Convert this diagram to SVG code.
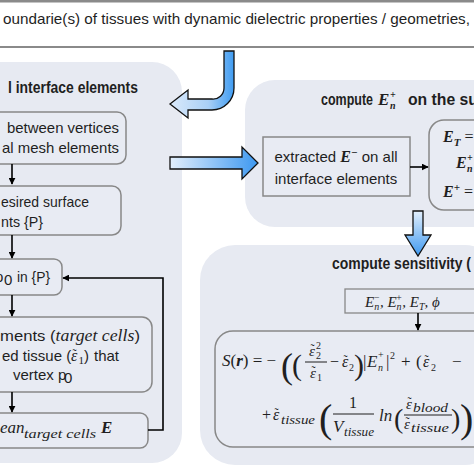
<svg xmlns="http://www.w3.org/2000/svg" width="474" height="474" viewBox="0 0 474 474">
<defs>
<style>
.panel{fill:#e7eaf2}
.box{fill:#e8ebf3;stroke:#888;stroke-width:1.5}
.t{font-family:"Liberation Sans",Arial,sans-serif;font-size:15px;fill:#1f1f1f}
.hb{font-weight:bold;font-size:17px}
.m{font-family:"Liberation Serif","Times New Roman",serif;font-style:italic;fill:#1f1f1f}
.up{font-style:normal}
.bi{font-weight:bold;font-style:italic}
.tl{font-family:"Liberation Serif","Times New Roman",serif;font-size:12px;fill:#1f1f1f}
.conn{stroke:#000;stroke-width:1.6;fill:none}
.blue{stroke:#111;stroke-width:1.3}
.bar{stroke:#1f1f1f;stroke-width:1}
</style>
<marker id="ah" viewBox="0 0 10 10" refX="9" refY="5" markerWidth="7" markerHeight="7" orient="auto" markerUnits="userSpaceOnUse">
<path d="M0,0 L10,5 L0,10 Z" fill="#000"/>
</marker>
<linearGradient id="gCurve" x1="0" y1="0" x2="1" y2="0">
<stop offset="0" stop-color="#dbeafb"/>
<stop offset="0.6" stop-color="#a9cff6"/>
<stop offset="1" stop-color="#3f9cf2"/>
</linearGradient>
<linearGradient id="gRight" x1="0" y1="0" x2="1" y2="0">
<stop offset="0" stop-color="#e3effc"/>
<stop offset="1" stop-color="#3d98f0"/>
</linearGradient>
<linearGradient id="gDown" x1="0" y1="0" x2="0" y2="1">
<stop offset="0" stop-color="#e3effc"/>
<stop offset="1" stop-color="#3d98f0"/>
</linearGradient>
</defs>

<rect x="0" y="0" width="474" height="474" fill="#fff"/>
<rect x="0" y="0" width="474" height="2.5" fill="#8a8a8a"/>
<g id="title">
<text class="t" x="3" y="24" font-size="16.5" textLength="467" lengthAdjust="spacingAndGlyphs">oundarie(s) of tissues with dynamic dielectric properties / geometries,</text>
</g>
<rect x="0" y="46" width="474" height="2" fill="#8a8a8a"/>

<g id="panel-left">
<rect class="panel" x="-40" y="62" width="222" height="401" rx="30"/>
<text class="t hb" x="138" y="93" text-anchor="end" textLength="130" lengthAdjust="spacingAndGlyphs">l interface elements</text>
</g>
<g id="panel-surface">
<rect class="panel" x="245" y="80" width="260" height="147" rx="30"/>
<text class="t hb" x="321" y="105" textLength="52" lengthAdjust="spacingAndGlyphs">compute</text>
<text class="m bi" x="378" y="105" font-size="17">E</text>
<text class="m bi" x="390" y="109" font-size="10">n</text>
<text class="m bi" x="390" y="98" font-size="10">+</text>
<text class="t hb" x="408" y="105" textLength="70" lengthAdjust="spacingAndGlyphs">on the su</text>
</g>
<g id="panel-sensitivity">
<rect class="panel" x="200" y="245" width="300" height="220" rx="35"/>
<text class="t hb" x="332" y="269" textLength="139" lengthAdjust="spacingAndGlyphs">compute sensitivity (</text>
</g>

<g id="node-vertices">
<rect class="box" x="-20" y="112" width="146" height="52" rx="9"/>
<text class="t" x="119" y="133" text-anchor="end" textLength="112" lengthAdjust="spacingAndGlyphs">between vertices</text>
<text class="t" x="119" y="153" text-anchor="end" textLength="117" lengthAdjust="spacingAndGlyphs">al mesh elements</text>
</g>
<g id="node-surface-points">
<rect class="box" x="-20" y="186" width="141" height="49" rx="9"/>
<text class="t" x="89" y="207" text-anchor="end" textLength="88" lengthAdjust="spacingAndGlyphs">esired surface</text>
<text class="t" x="43" y="227" text-anchor="end" textLength="42" lengthAdjust="spacingAndGlyphs">nts {P}</text>
</g>
<g id="node-p0">
<rect class="box" x="-20" y="259" width="82" height="36" rx="8"/>
<text class="t" x="-5" y="282">p</text>
<text class="t" x="4" y="285" font-size="10">0</text>
<text class="t" x="17" y="282" textLength="33" lengthAdjust="spacingAndGlyphs">in {P}</text>
</g>
<g id="node-target-cells">
<rect class="box" x="-20" y="317" width="172" height="75" rx="10"/>
<text class="t" x="0" y="341" textLength="140" lengthAdjust="spacingAndGlyphs">ments (<tspan class="m" font-size="16">target cells</tspan>)</text>
<text class="t" x="2" y="361" font-size="14.5">ed tissue (</text>
<text class="m" x="71" y="361" font-size="16">ε</text>
<text class="tl" x="72.5" y="358">˜</text>
<text class="m up" x="78.5" y="364" font-size="11">1</text>
<text class="t" x="84" y="361">)</text>
<text class="t" x="94" y="361">that</text>
<text class="t" x="13" y="380" font-size="14.5">vertex p</text>
<text class="t" x="64" y="383" font-size="9.5">0</text>
</g>
<g id="node-mean">
<rect class="box" x="-20" y="413" width="168" height="35" rx="8"/>
<text class="m" x="0" y="433" font-size="17">ean</text>
<text class="m" x="24" y="438" font-size="12" textLength="72" lengthAdjust="spacingAndGlyphs">target cells</text>
<text class="m bi" x="101" y="433" font-size="17">E</text>
</g>

<g id="node-extracted">
<rect x="263" y="137" width="147" height="59" fill="#e8ebf3" stroke="#888" stroke-width="1.5"/>
<text class="t" x="336" y="162" text-anchor="middle">extracted <tspan class="m bi" font-size="16">E</tspan><tspan class="m bi" font-size="11" dy="-6">−</tspan><tspan dy="6"> on all</tspan></text>
<text class="t" x="336" y="184" text-anchor="middle">interface elements</text>
</g>
<g id="node-equations">
<rect class="box" x="429" y="120" width="80" height="90" rx="15"/>
<text class="m bi" x="443" y="142" font-size="16">E<tspan font-size="11" dy="4">T</tspan><tspan class="up" font-weight="normal" dy="-4"> =</tspan></text>
<text class="m bi" x="456" y="168" font-size="16">E</text>
<text class="m bi" x="467" y="172" font-size="10">n</text>
<text class="m bi" x="467" y="161" font-size="10">+</text>
<text class="m bi" x="443" y="197" font-size="16">E<tspan font-size="11" dy="-6">+</tspan><tspan class="up" font-weight="normal" dy="6"> =</tspan></text>
</g>
<g id="node-fields">
<rect x="345" y="289" width="140" height="24" fill="#e8ebf3" stroke="#888" stroke-width="1.3"/>
<text class="m" x="365" y="307" font-size="15">E<tspan font-size="10" dy="3">n</tspan><tspan font-size="10" dx="-6" dy="-9">−</tspan><tspan dy="6">, E</tspan><tspan font-size="10" dy="3">n</tspan><tspan font-size="10" dx="-6" dy="-9">+</tspan><tspan dy="6">, E</tspan><tspan font-size="10" dy="3">T</tspan><tspan dy="-3">, ϕ</tspan></text>
</g>
<g id="node-formula">
<rect class="box" x="215" y="331" width="280" height="116" rx="18"/>
<text class="m" x="222" y="366" font-size="17">S<tspan class="up">(</tspan><tspan class="bi">r</tspan><tspan class="up">) = −</tspan></text>
<text class="m up" x="281" y="378" font-size="36">(</text>
<text class="m up" x="292" y="375" font-size="30">(</text>
<text class="m" x="309" y="356" font-size="15">ε</text>
<text class="tl" x="310.5" y="353">˜</text>
<text class="m up" x="316" y="359" font-size="10">2</text>
<text class="m up" x="316" y="349" font-size="10">2</text>
<line class="bar" x1="305" y1="362" x2="327" y2="362"/>
<text class="m" x="310" y="378" font-size="15">ε</text>
<text class="tl" x="311.5" y="375">˜</text>
<text class="m up" x="317" y="381" font-size="10">1</text>
<text class="m up" x="330" y="367" font-size="16">−</text>
<text class="m" x="342" y="367" font-size="16">ε</text>
<text class="tl" x="343.5" y="364">˜</text>
<text class="m up" x="349" y="371" font-size="10">2</text>
<text class="m up" x="354" y="375" font-size="30">)</text>
<text class="m up" x="363" y="367" font-size="17">|</text>
<text class="m" x="367" y="367" font-size="17">E</text>
<text class="m" x="378" y="371" font-size="10">n</text>
<text class="m up" x="378" y="358" font-size="10">+</text>
<text class="m up" x="386" y="367" font-size="17">|</text>
<text class="m up" x="390" y="359" font-size="10">2</text>
<text class="m up" x="401" y="367" font-size="17">+</text>
<text class="m up" x="416" y="367" font-size="17">(</text>
<text class="m" x="423" y="367" font-size="16">ε</text>
<text class="tl" x="424.5" y="364">˜</text>
<text class="m up" x="431" y="371" font-size="10">2</text>
<text class="m up" x="452" y="367" font-size="17">−</text>
<text class="m up" x="262" y="420" font-size="16">+</text>
<text class="m" x="273" y="420" font-size="16">ε</text>
<text class="tl" x="274.5" y="417">˜</text>
<text class="m" x="281" y="424" font-size="12" textLength="34" lengthAdjust="spacingAndGlyphs">tissue</text>
<text class="m up" x="319" y="432" font-size="40">(</text>
<text class="m up" x="353" y="408" font-size="16" text-anchor="middle">1</text>
<line class="bar" x1="333" y1="414" x2="374" y2="414"/>
<text class="m" x="333" y="432" font-size="17">V</text>
<text class="m" x="344" y="436" font-size="12" textLength="30" lengthAdjust="spacingAndGlyphs">tissue</text>
<text class="m" x="379" y="421" font-size="17">ln</text>
<text class="m up" x="394" y="428" font-size="28">(</text>
<text class="m" x="406" y="409" font-size="15">ε</text>
<text class="tl" x="407.5" y="406">˜</text>
<text class="m" x="413" y="412" font-size="12" textLength="35" lengthAdjust="spacingAndGlyphs">blood</text>
<line class="bar" x1="404" y1="415" x2="452" y2="415"/>
<text class="m" x="404" y="429" font-size="15">ε</text>
<text class="tl" x="405.5" y="426">˜</text>
<text class="m" x="411" y="432" font-size="12" textLength="38" lengthAdjust="spacingAndGlyphs">tissue</text>
<text class="m up" x="451" y="428" font-size="28">)</text>
<text class="m up" x="460" y="432" font-size="40">)</text>
</g>

<g id="connectors">
<line class="conn" x1="12" y1="164" x2="12" y2="184" marker-end="url(#ah)"/>
<line class="conn" x1="12" y1="235" x2="12" y2="258" marker-end="url(#ah)"/>
<line class="conn" x1="12" y1="295" x2="12" y2="316" marker-end="url(#ah)"/>
<line class="conn" x1="12" y1="392" x2="12" y2="412" marker-end="url(#ah)"/>
<path class="conn" d="M148,430 H163 V278 H63" stroke-width="2" marker-end="url(#ah)"/>
<line class="conn" x1="410" y1="167" x2="428" y2="167" marker-end="url(#ah)"/>
<line class="conn" x1="418" y1="313" x2="418" y2="330" marker-end="url(#ah)"/>
<path class="blue" fill="url(#gCurve)" d="M224,51 L234,51 L234,88 A22,22 0 0 1 212,110 L188,110 L188,118 L170,104 L188,90 L188,99 L212,99 A11,11 0 0 0 224,88 Z"/>
<path class="blue" fill="url(#gRight)" d="M170,157 L242,157 L242,147 L258,163 L242,179 L242,169 L170,169 Z"/>
<path class="blue" fill="url(#gDown)" d="M413,211 L423,211 L423,235 L431,235 L418,256 L405,235 L413,235 Z"/>
</g>
</svg>
